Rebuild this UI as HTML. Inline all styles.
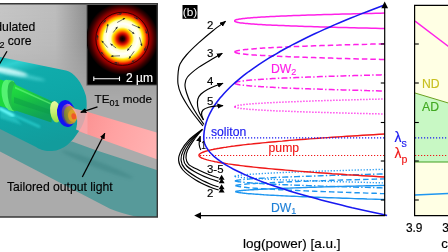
<!DOCTYPE html>
<html><head><meta charset="utf-8"><title>figure</title>
<style>
html,body{margin:0;padding:0;background:#fff;}
body{width:448px;height:252px;overflow:hidden;}
svg{display:block;}
text{font-family:"Liberation Sans",Arial,sans-serif;}
</style></head><body>
<svg width="448" height="252" viewBox="0 0 448 252">
<defs>
<linearGradient id="bgA" x1="0" y1="0" x2="1" y2="0">
<stop offset="0" stop-color="#c6c6c6"/><stop offset="0.35" stop-color="#bdbdbd"/><stop offset="0.56" stop-color="#8c8c8c"/><stop offset="1" stop-color="#8a8a8a"/>
</linearGradient>
<linearGradient id="bgFade" x1="0" y1="0" x2="0" y2="1">
<stop offset="0" stop-color="#fff" stop-opacity="1"/><stop offset="0.45" stop-color="#fff" stop-opacity="0.8"/><stop offset="1" stop-color="#fff" stop-opacity="0"/>
</linearGradient>
<mask id="mFade"><rect x="0" y="0" width="160" height="100" fill="url(#bgFade)"/></mask>
<radialGradient id="ring" cx="122.4" cy="38.8" r="36" gradientUnits="userSpaceOnUse">
<stop offset="0" stop-color="#000000"/>
<stop offset="0.06" stop-color="#2a0000"/>
<stop offset="0.115" stop-color="#a00000"/>
<stop offset="0.165" stop-color="#e82000"/>
<stop offset="0.215" stop-color="#ff8000"/>
<stop offset="0.27" stop-color="#ffe000"/>
<stop offset="0.325" stop-color="#ffffc8"/>
<stop offset="0.42" stop-color="#ffffff"/>
<stop offset="0.515" stop-color="#ffffc8"/>
<stop offset="0.57" stop-color="#ffe800"/>
<stop offset="0.625" stop-color="#ff9000"/>
<stop offset="0.68" stop-color="#f02000"/>
<stop offset="0.73" stop-color="#b00000"/>
<stop offset="0.80" stop-color="#880000"/>
<stop offset="0.89" stop-color="#400000"/>
<stop offset="1" stop-color="#000000"/>
</radialGradient>
<linearGradient id="teal" x1="0" y1="0" x2="0.25" y2="1">
<stop offset="0" stop-color="#18b4b4"/><stop offset="0.10" stop-color="#30d0d0"/><stop offset="0.22" stop-color="#10acac"/><stop offset="0.6" stop-color="#0ea6a6"/><stop offset="1" stop-color="#129c9c"/>
</linearGradient>
<linearGradient id="green" x1="0" y1="0" x2="0.35" y2="1">
<stop offset="0" stop-color="#22e040"/><stop offset="0.3" stop-color="#1cd040"/><stop offset="0.6" stop-color="#16b848"/><stop offset="1" stop-color="#10a058"/>
</linearGradient>
<marker id="ah" viewBox="0 0 10 10" refX="9" refY="5" markerWidth="6.2" markerHeight="6.2" orient="auto-start-reverse" markerUnits="userSpaceOnUse"><path d="M0,0.8 L10,5 L0,9.2 z" fill="#000"/></marker>
<filter id="blur1" x="-20%" y="-20%" width="140%" height="140%"><feGaussianBlur stdDeviation="0.8"/></filter>
<filter id="blur2" x="-20%" y="-100%" width="140%" height="300%"><feGaussianBlur stdDeviation="1.6"/></filter>
<linearGradient id="ygrad" x1="0" y1="0" x2="0" y2="1"><stop offset="0" stop-color="#e8f8a0"/><stop offset="0.5" stop-color="#c8f070"/><stop offset="1" stop-color="#90e040"/></linearGradient>
<linearGradient id="pgrad" x1="0" y1="0.6" x2="1" y2="0.3"><stop offset="0" stop-color="#403890"/><stop offset="0.45" stop-color="#7848b0"/><stop offset="0.8" stop-color="#d060e0"/><stop offset="1" stop-color="#ff80f0"/></linearGradient>
<clipPath id="clipInset"><rect x="87" y="5" width="70.5" height="80.5"/></clipPath>
<clipPath id="clipA"><rect x="0" y="4" width="157.5" height="213"/></clipPath>
<linearGradient id="pinkg" gradientUnits="userSpaceOnUse" x1="78" y1="120" x2="157" y2="146"><stop offset="0" stop-color="#fb9090"/><stop offset="0.45" stop-color="#ffa2a2"/><stop offset="1" stop-color="#ffb2b2"/></linearGradient>
<linearGradient id="ogr" x1="0" y1="0.5" x2="1" y2="0.4"><stop offset="0" stop-color="#6c7c38"/><stop offset="0.4" stop-color="#a89030"/><stop offset="1" stop-color="#d8a040"/></linearGradient>
<clipPath id="clipC"><rect x="415" y="5" width="33" height="210"/></clipPath>
</defs>

<g clip-path="url(#clipA)">
<rect x="0" y="4" width="158" height="213" fill="#ababab"/>
<rect x="0" y="4" width="158" height="100" fill="url(#bgA)" mask="url(#mFade)"/>
<path d="M0,128 L40,146 L72,141.5 L96,150.3 L157.5,170.3 L157.5,218 L142,218 Q122,213.8 110,208.8 L0,151.4 Z" fill="#579a9a"/>
<ellipse cx="96" cy="165" rx="38" ry="3.2" fill="#3f8585" opacity="0.55" transform="rotate(21 98 168)" filter="url(#blur2)"/>
<path d="M76,108.5 L157.5,132.8 L157.5,159.5 L78,131 Z" fill="url(#pinkg)"/>
<path d="M0,57 L66,70.5 C74,72.5 82,82 86,96 C88,108 86,122 78.7,131.4 C72,142 64,150 52,151 C44,151.5 39,149 36,147 L0,129 Z" fill="url(#teal)"/>
<ellipse cx="9" cy="71.5" rx="19" ry="2.8" fill="#f0ffff" opacity="0.95" transform="rotate(12 9 71.5)" filter="url(#blur2)"/>
<ellipse cx="22" cy="75.5" rx="24" ry="2" fill="#70e8e8" opacity="0.5" transform="rotate(12 22 75.5)" filter="url(#blur2)"/>
<path d="M0,110 L14,116 L22,125 L0,118 Z" fill="#28c4c4" opacity="0.8" filter="url(#blur1)"/>
<path d="M0,109 L40,127" stroke="#30dcdc" stroke-width="2.4" fill="none" filter="url(#blur1)" opacity="0.7"/>
<path d="M0,108.6 L13,115.5" stroke="#70ffff" stroke-width="2.6" fill="none" filter="url(#blur1)" stroke-linecap="round"/>
<path d="M0,79.5 L10,82.6 L10,109 L0,106 Z" fill="#1cd83c"/>
<ellipse cx="8.2" cy="94.8" rx="6.4" ry="15.2" fill="#54f272" transform="rotate(-8 8.2 94.8)"/>
<path d="M8.2,79.7 L14,81 L14,111.4 L8.2,109.9 Z" fill="#4cec6a"/>
<ellipse cx="13.6" cy="96.2" rx="5.8" ry="15.2" fill="#24bc4a" transform="rotate(-8 13.6 96.2)"/>
<path d="M14.5,84.2 L53.6,102 L51.4,122.5 L12.6,109.4 C10.5,104 11,90 14.5,84.2 Z" fill="url(#green)"/>
<path d="M14,97 L52,110.5 L52,115 L14,103 Z" fill="#0c9a48" opacity="0.45"/>
<path d="M15,86.5 L53,104 L53,105.6 L15,88.6 Z" fill="#70ff80" opacity="0.55"/>
<ellipse cx="55.6" cy="111.8" rx="5.4" ry="10.8" fill="url(#ygrad)" transform="rotate(-9 55.6 111.8)"/>
<ellipse cx="66.3" cy="113.6" rx="9.2" ry="13.6" fill="#1212f2" transform="rotate(-9 66.3 113.6)"/>
<ellipse cx="68.3" cy="114.2" rx="6.6" ry="10.4" fill="url(#pgrad)" transform="rotate(-9 68.3 114.2)"/>
<ellipse cx="70.4" cy="115" rx="6.6" ry="9.2" fill="url(#ogr)" transform="rotate(-9 70.4 115)"/>
<ellipse cx="72.6" cy="115.8" rx="4.5" ry="6" fill="#dca024" transform="rotate(-9 72.6 115.8)"/>
<ellipse cx="73.8" cy="116.3" rx="2.4" ry="3.1" fill="#f05828" transform="rotate(-9 73.8 116.3)"/>
<path d="M72,108 L87.5,111.8 L87.5,134.5 L76,129.5 C78,122 78,115 72,108 Z" fill="#f8a8ac" opacity="0.85"/>
<rect x="86.6" y="5" width="71.4" height="80.4" fill="#000"/>
<path d="M86.9,5 V85.2 H157" stroke="#999" stroke-width="0.7" fill="none"/>
<g clip-path="url(#clipInset)"><circle cx="122.4" cy="38.8" r="36" fill="url(#ring)"/></g>
<circle cx="122.4" cy="38.8" r="26.6" fill="none" stroke="#2a0000" stroke-width="0.9"/>
<path d="M131.6,45.1 L127.5,50.5" stroke="#2a2a2a" stroke-width="0.65" fill="none"/>
<path d="M127.1,51.0 L127.9,48.3 L129.5,49.5 Z" fill="#2a2a2a"/>
<path d="M116.1,48.0 L110.7,43.9" stroke="#2a2a2a" stroke-width="0.65" fill="none"/>
<path d="M110.2,43.5 L112.9,44.3 L111.7,45.9 Z" fill="#2a2a2a"/>
<path d="M113.2,32.5 L117.3,27.1" stroke="#2a2a2a" stroke-width="0.65" fill="none"/>
<path d="M117.7,26.6 L116.9,29.3 L115.3,28.1 Z" fill="#2a2a2a"/>
<path d="M128.7,29.6 L134.1,33.7" stroke="#2a2a2a" stroke-width="0.65" fill="none"/>
<path d="M134.6,34.1 L131.9,33.3 L133.1,31.7 Z" fill="#2a2a2a"/>
<path d="M139.5,37.3 L141.9,45.8" stroke="#2a2a2a" stroke-width="0.65" fill="none"/>
<path d="M142.0,46.4 L140.3,44.1 L142.3,43.6 Z" fill="#2a2a2a"/>
<path d="M134.2,51.3 L129.1,58.4" stroke="#2a2a2a" stroke-width="0.65" fill="none"/>
<path d="M128.7,58.9 L129.4,56.1 L131.1,57.3 Z" fill="#2a2a2a"/>
<path d="M120.0,55.8 L111.2,56.2" stroke="#2a2a2a" stroke-width="0.65" fill="none"/>
<path d="M110.6,56.3 L113.2,55.1 L113.3,57.2 Z" fill="#2a2a2a"/>
<path d="M107.6,47.5 L101.8,40.9" stroke="#2a2a2a" stroke-width="0.65" fill="none"/>
<path d="M101.4,40.5 L103.9,41.8 L102.4,43.1 Z" fill="#2a2a2a"/>
<path d="M106.3,32.7 L107.9,24.0" stroke="#2a2a2a" stroke-width="0.65" fill="none"/>
<path d="M108.0,23.4 L108.5,26.2 L106.5,25.9 Z" fill="#2a2a2a"/>
<path d="M117.2,22.5 L124.9,18.3" stroke="#2a2a2a" stroke-width="0.65" fill="none"/>
<path d="M125.4,18.0 L123.6,20.1 L122.6,18.3 Z" fill="#2a2a2a"/>
<path d="M131.9,24.5 L140.0,27.9" stroke="#2a2a2a" stroke-width="0.65" fill="none"/>
<path d="M140.6,28.2 L137.7,28.1 L138.5,26.2 Z" fill="#2a2a2a"/>
<path d="M145.9,46.4 L144.6,50.6" stroke="#2a2a2a" stroke-width="0.65" fill="none"/>
<path d="M144.4,51.1 L144.2,48.3 L146.2,48.9 Z" fill="#2a2a2a"/>
<path d="M135.5,59.7 L131.8,62.1" stroke="#2a2a2a" stroke-width="0.65" fill="none"/>
<path d="M131.3,62.4 L133.0,60.1 L134.1,61.8 Z" fill="#2a2a2a"/>
<path d="M119.0,63.2 L114.7,62.7" stroke="#2a2a2a" stroke-width="0.65" fill="none"/>
<path d="M114.1,62.6 L116.8,61.9 L116.6,64.0 Z" fill="#2a2a2a"/>
<path d="M104.1,55.4 L101.1,52.1" stroke="#2a2a2a" stroke-width="0.65" fill="none"/>
<path d="M100.7,51.7 L103.3,52.9 L101.8,54.3 Z" fill="#2a2a2a"/>
<path d="M97.7,39.7 L97.5,35.3" stroke="#2a2a2a" stroke-width="0.65" fill="none"/>
<path d="M97.5,34.7 L98.6,37.3 L96.6,37.4 Z" fill="#2a2a2a"/>
<path d="M102.9,23.7 L105.6,20.2" stroke="#2a2a2a" stroke-width="0.65" fill="none"/>
<path d="M105.9,19.7 L105.1,22.4 L103.5,21.2 Z" fill="#2a2a2a"/>
<path d="M117.2,14.7 L121.5,13.7" stroke="#2a2a2a" stroke-width="0.65" fill="none"/>
<path d="M122.1,13.6 L119.7,15.1 L119.3,13.2 Z" fill="#2a2a2a"/>
<path d="M133.9,17.0 L137.8,19.0" stroke="#2a2a2a" stroke-width="0.65" fill="none"/>
<path d="M138.4,19.3 L135.6,19.0 L136.5,17.1 Z" fill="#2a2a2a"/>
<path d="M145.3,29.5 L147.0,33.5" stroke="#2a2a2a" stroke-width="0.65" fill="none"/>
<path d="M147.2,34.1 L145.2,32.1 L147.1,31.3 Z" fill="#2a2a2a"/>
<path d="M93.5,78.8 H119.8 M93.8,76.6 V81 M119.5,76.6 V81" stroke="#fff" stroke-width="1.1" fill="none"/>
<text x="126" y="82.3" font-size="12" fill="#fff" stroke="#fff" stroke-width="0.15">2 µm</text>
<text x="35.3" y="30.5" font-size="12.2" fill="#000" stroke="#000" stroke-width="0.15" text-anchor="end">Modulated</text>
<text x="31.5" y="45" font-size="12.2" fill="#000" stroke="#000" stroke-width="0.15" text-anchor="end">SiO<tspan font-size="9" dy="3">2</tspan><tspan dy="-3"> core</tspan></text>
<path d="M7,51.2 L-0.5,64" stroke="#000" stroke-width="1.25" fill="none"/>
<text x="94.6" y="103" font-size="11.7" fill="#000" stroke="#000" stroke-width="0.15">TE<tspan font-size="9" dy="2.6">01</tspan><tspan dy="-2.6"> mode</tspan></text>
<path d="M97.5,106.8 L80.8,112.3" stroke="#000" stroke-width="1.3" fill="none" marker-end="url(#ah)"/>
<path d="M82.3,177 L104.8,133.3" stroke="#000" stroke-width="1.3" fill="none" marker-end="url(#ah)"/>
<text x="7" y="191.3" font-size="12.2" fill="#000" stroke="#000" stroke-width="0.15">Tailored output light</text>
</g>
<path d="M0,3.8 H157.3 V217 H0" stroke="#383838" stroke-width="1.4" fill="none"/>
<rect x="182.5" y="5" width="15" height="13.8" fill="#000"/>
<text x="190" y="16" font-size="11.8" fill="white" text-anchor="middle">(b)</text>
<path d="M234.7,20.9 L234.7,20.8 L234.7,20.7 L234.7,20.7 L234.8,20.6 L234.8,20.5 L234.9,20.4 L235.0,20.3 L235.2,20.2 L235.3,20.1 L235.5,20.0 L235.8,19.9 L236.0,19.8 L236.3,19.7 L236.6,19.6 L237.0,19.6 L237.4,19.5 L237.8,19.4 L238.3,19.3 L238.8,19.2 L239.4,19.1 L240.0,19.0 L240.7,18.9 L241.4,18.8 L242.1,18.7 L242.9,18.6 L243.8,18.5 L244.6,18.4 L245.6,18.3 L246.6,18.2 L247.6,18.1 L248.7,18.0 L249.9,17.9 L251.1,17.8 L252.4,17.7 L253.7,17.6 L255.1,17.5 L256.6,17.4 L258.1,17.3 L259.6,17.2 L261.3,17.1 L263.0,17.0 L264.7,16.9 L266.5,16.8 L268.4,16.7 L270.4,16.6 L272.4,16.5 L274.5,16.4 L276.6,16.3 L278.8,16.2 L281.1,16.1 L283.5,16.0 L285.9,15.9 L288.4,15.8 L291.0,15.7 L293.6,15.6 L296.3,15.5 L299.1,15.4 L302.0,15.3 L304.9,15.2 L307.9,15.1 L311.0,15.0 L314.2,14.9 L317.4,14.8 L320.7,14.7 L324.1,14.6 L327.6,14.5 L331.2,14.4 L334.8,14.3 L338.5,14.2 L342.3,14.1 L346.2,14.0 L350.2,13.9 L354.2,13.8 L358.4,13.7 L362.6,13.6 L366.9,13.5 L371.3,13.4 L375.8,13.3 L380.3,13.2 L385.0,13.1 M234.7,20.9 L234.7,21.0 L234.7,21.1 L234.7,21.1 L234.8,21.2 L234.8,21.3 L234.9,21.4 L235.0,21.5 L235.2,21.6 L235.3,21.7 L235.5,21.8 L235.8,21.8 L236.0,21.9 L236.3,22.0 L236.6,22.1 L237.0,22.2 L237.4,22.3 L237.8,22.4 L238.3,22.5 L238.8,22.6 L239.4,22.7 L240.0,22.8 L240.7,22.9 L241.4,23.0 L242.1,23.0 L242.9,23.1 L243.8,23.2 L244.6,23.3 L245.6,23.4 L246.6,23.5 L247.6,23.6 L248.7,23.7 L249.9,23.8 L251.1,23.9 L252.4,24.0 L253.7,24.1 L255.1,24.2 L256.6,24.3 L258.1,24.4 L259.6,24.5 L261.3,24.6 L263.0,24.7 L264.7,24.8 L266.5,24.9 L268.4,25.0 L270.4,25.1 L272.4,25.2 L274.5,25.2 L276.6,25.3 L278.8,25.4 L281.1,25.5 L283.5,25.6 L285.9,25.7 L288.4,25.8 L291.0,25.9 L293.6,26.0 L296.3,26.1 L299.1,26.2 L302.0,26.3 L304.9,26.4 L307.9,26.5 L311.0,26.6 L314.2,26.7 L317.4,26.8 L320.7,26.9 L324.1,27.0 L327.6,27.1 L331.2,27.2 L334.8,27.3 L338.5,27.4 L342.3,27.5 L346.2,27.6 L350.2,27.7 L354.2,27.8 L358.4,27.9 L362.6,28.0 L366.9,28.1 L371.3,28.2 L375.8,28.3 L380.3,28.4 L385.0,28.5" stroke="#ff20e8" stroke-width="1.5" fill="none"/>
<path d="M235.0,52.0 L235.0,51.9 L235.0,51.9 L235.0,51.8 L235.1,51.7 L235.1,51.6 L235.2,51.6 L235.3,51.5 L235.5,51.4 L235.6,51.3 L235.8,51.2 L236.1,51.1 L236.3,51.0 L236.6,50.9 L236.9,50.8 L237.3,50.8 L237.7,50.7 L238.1,50.6 L238.6,50.5 L239.1,50.4 L239.7,50.3 L240.3,50.2 L240.9,50.1 L241.6,50.0 L242.4,49.9 L243.2,49.8 L244.0,49.7 L244.9,49.6 L245.9,49.5 L246.9,49.4 L247.9,49.3 L249.0,49.2 L250.2,49.1 L251.4,49.0 L252.7,48.9 L254.0,48.8 L255.4,48.7 L256.8,48.6 L258.3,48.5 L259.9,48.3 L261.5,48.2 L263.2,48.1 L265.0,48.0 L266.8,47.9 L268.7,47.8 L270.6,47.7 L272.6,47.6 L274.7,47.5 L276.8,47.4 L279.0,47.3 L281.3,47.2 L283.7,47.1 L286.1,46.9 L288.6,46.8 L291.2,46.7 L293.8,46.6 L296.5,46.5 L299.3,46.4 L302.1,46.3 L305.1,46.2 L308.1,46.1 L311.2,46.0 L314.3,45.8 L317.6,45.7 L320.9,45.6 L324.3,45.5 L327.7,45.4 L331.3,45.3 L334.9,45.2 L338.6,45.1 L342.4,44.9 L346.3,44.8 L350.3,44.7 L354.3,44.6 L358.4,44.5 L362.6,44.4 L366.9,44.3 L371.3,44.1 L375.8,44.0 L380.4,43.9 L385.0,43.8 M235.0,52.0 L235.0,52.1 L235.0,52.1 L235.0,52.2 L235.1,52.3 L235.1,52.3 L235.2,52.4 L235.3,52.5 L235.5,52.6 L235.6,52.6 L235.8,52.7 L236.1,52.8 L236.3,52.9 L236.6,53.0 L236.9,53.1 L237.3,53.1 L237.7,53.2 L238.1,53.3 L238.6,53.4 L239.1,53.5 L239.7,53.6 L240.3,53.7 L240.9,53.8 L241.6,53.8 L242.4,53.9 L243.2,54.0 L244.0,54.1 L244.9,54.2 L245.9,54.3 L246.9,54.4 L247.9,54.5 L249.0,54.6 L250.2,54.7 L251.4,54.8 L252.7,54.9 L254.0,55.0 L255.4,55.1 L256.8,55.2 L258.3,55.2 L259.9,55.3 L261.5,55.4 L263.2,55.5 L265.0,55.6 L266.8,55.7 L268.7,55.8 L270.6,55.9 L272.6,56.0 L274.7,56.1 L276.8,56.2 L279.0,56.3 L281.3,56.4 L283.7,56.5 L286.1,56.6 L288.6,56.7 L291.2,56.8 L293.8,56.9 L296.5,57.0 L299.3,57.1 L302.1,57.2 L305.1,57.3 L308.1,57.4 L311.2,57.5 L314.3,57.6 L317.6,57.7 L320.9,57.8 L324.3,57.9 L327.7,58.0 L331.3,58.1 L334.9,58.2 L338.6,58.4 L342.4,58.5 L346.3,58.6 L350.3,58.7 L354.3,58.8 L358.4,58.9 L362.6,59.0 L366.9,59.1 L371.3,59.2 L375.8,59.3 L380.4,59.4 L385.0,59.5" stroke="#ff20e8" stroke-width="1.5" fill="none" stroke-dasharray="5.5,3"/>
<path d="M235.0,83.1 L235.0,83.0 L235.0,83.0 L235.0,82.9 L235.1,82.8 L235.1,82.7 L235.2,82.6 L235.3,82.6 L235.5,82.5 L235.6,82.4 L235.8,82.3 L236.1,82.2 L236.3,82.1 L236.6,82.0 L236.9,81.9 L237.3,81.8 L237.7,81.7 L238.1,81.6 L238.6,81.6 L239.1,81.5 L239.7,81.4 L240.3,81.3 L240.9,81.2 L241.6,81.1 L242.4,81.0 L243.2,80.9 L244.0,80.8 L244.9,80.7 L245.9,80.6 L246.9,80.4 L247.9,80.3 L249.0,80.2 L250.2,80.1 L251.4,80.0 L252.7,79.9 L254.0,79.8 L255.4,79.7 L256.8,79.6 L258.3,79.5 L259.9,79.4 L261.5,79.3 L263.2,79.2 L265.0,79.1 L266.8,79.0 L268.7,78.9 L270.6,78.8 L272.6,78.6 L274.7,78.5 L276.8,78.4 L279.0,78.3 L281.3,78.2 L283.7,78.1 L286.1,78.0 L288.6,77.9 L291.2,77.8 L293.8,77.7 L296.5,77.5 L299.3,77.4 L302.1,77.3 L305.1,77.2 L308.1,77.1 L311.2,77.0 L314.3,76.9 L317.6,76.8 L320.9,76.6 L324.3,76.5 L327.7,76.4 L331.3,76.3 L334.9,76.2 L338.6,76.1 L342.4,76.0 L346.3,75.8 L350.3,75.7 L354.3,75.6 L358.4,75.5 L362.6,75.4 L366.9,75.3 L371.3,75.1 L375.8,75.0 L380.4,74.9 L385.0,74.8 M235.0,83.1 L235.0,83.2 L235.0,83.2 L235.0,83.3 L235.1,83.4 L235.1,83.4 L235.2,83.5 L235.3,83.6 L235.5,83.7 L235.6,83.8 L235.8,83.9 L236.1,83.9 L236.3,84.0 L236.6,84.1 L236.9,84.2 L237.3,84.3 L237.7,84.4 L238.1,84.5 L238.6,84.6 L239.1,84.7 L239.7,84.8 L240.3,84.9 L240.9,84.9 L241.6,85.0 L242.4,85.1 L243.2,85.2 L244.0,85.3 L244.9,85.4 L245.9,85.5 L246.9,85.6 L247.9,85.7 L249.0,85.8 L250.2,85.9 L251.4,86.0 L252.7,86.1 L254.0,86.2 L255.4,86.3 L256.8,86.4 L258.3,86.5 L259.9,86.6 L261.5,86.7 L263.2,86.8 L265.0,86.9 L266.8,87.0 L268.7,87.1 L270.6,87.2 L272.6,87.3 L274.7,87.4 L276.8,87.5 L279.0,87.7 L281.3,87.8 L283.7,87.9 L286.1,88.0 L288.6,88.1 L291.2,88.2 L293.8,88.3 L296.5,88.4 L299.3,88.5 L302.1,88.6 L305.1,88.7 L308.1,88.8 L311.2,88.9 L314.3,89.0 L317.6,89.1 L320.9,89.2 L324.3,89.4 L327.7,89.5 L331.3,89.6 L334.9,89.7 L338.6,89.8 L342.4,89.9 L346.3,90.0 L350.3,90.1 L354.3,90.2 L358.4,90.3 L362.6,90.4 L366.9,90.6 L371.3,90.7 L375.8,90.8 L380.4,90.9 L385.0,91.0" stroke="#ff20e8" stroke-width="1.5" fill="none" stroke-dasharray="6,2.2,1.4,2.2"/>
<path d="M235.0,106.8 L235.0,106.7 L235.0,106.7 L235.0,106.6 L235.1,106.5 L235.1,106.5 L235.2,106.4 L235.3,106.3 L235.5,106.2 L235.6,106.1 L235.8,106.0 L236.1,106.0 L236.3,105.9 L236.6,105.8 L236.9,105.7 L237.3,105.6 L237.7,105.5 L238.1,105.4 L238.6,105.3 L239.1,105.3 L239.7,105.2 L240.3,105.1 L240.9,105.0 L241.6,104.9 L242.4,104.8 L243.2,104.7 L244.0,104.6 L244.9,104.5 L245.9,104.4 L246.9,104.3 L247.9,104.2 L249.0,104.1 L250.2,104.0 L251.4,103.9 L252.7,103.8 L254.0,103.7 L255.4,103.6 L256.8,103.5 L258.3,103.4 L259.9,103.3 L261.5,103.2 L263.2,103.1 L265.0,103.0 L266.8,102.9 L268.7,102.8 L270.6,102.7 L272.6,102.6 L274.7,102.5 L276.8,102.4 L279.0,102.3 L281.3,102.2 L283.7,102.1 L286.1,102.0 L288.6,101.9 L291.2,101.8 L293.8,101.7 L296.5,101.6 L299.3,101.5 L302.1,101.4 L305.1,101.3 L308.1,101.2 L311.2,101.1 L314.3,100.9 L317.6,100.8 L320.9,100.7 L324.3,100.6 L327.7,100.5 L331.3,100.4 L334.9,100.3 L338.6,100.2 L342.4,100.1 L346.3,100.0 L350.3,99.9 L354.3,99.8 L358.4,99.7 L362.6,99.5 L366.9,99.4 L371.3,99.3 L375.8,99.2 L380.4,99.1 L385.0,99.0 M235.0,106.8 L235.0,106.9 L235.0,106.9 L235.0,107.0 L235.1,107.0 L235.1,107.1 L235.2,107.2 L235.3,107.3 L235.5,107.3 L235.6,107.4 L235.8,107.5 L236.1,107.6 L236.3,107.7 L236.6,107.7 L236.9,107.8 L237.3,107.9 L237.7,108.0 L238.1,108.1 L238.6,108.1 L239.1,108.2 L239.7,108.3 L240.3,108.4 L240.9,108.5 L241.6,108.6 L242.4,108.7 L243.2,108.7 L244.0,108.8 L244.9,108.9 L245.9,109.0 L246.9,109.1 L247.9,109.2 L249.0,109.3 L250.2,109.4 L251.4,109.5 L252.7,109.5 L254.0,109.6 L255.4,109.7 L256.8,109.8 L258.3,109.9 L259.9,110.0 L261.5,110.1 L263.2,110.2 L265.0,110.3 L266.8,110.4 L268.7,110.5 L270.6,110.6 L272.6,110.7 L274.7,110.8 L276.8,110.9 L279.0,110.9 L281.3,111.0 L283.7,111.1 L286.1,111.2 L288.6,111.3 L291.2,111.4 L293.8,111.5 L296.5,111.6 L299.3,111.7 L302.1,111.8 L305.1,111.9 L308.1,112.0 L311.2,112.1 L314.3,112.2 L317.6,112.3 L320.9,112.4 L324.3,112.5 L327.7,112.6 L331.3,112.7 L334.9,112.8 L338.6,112.9 L342.4,113.0 L346.3,113.1 L350.3,113.2 L354.3,113.3 L358.4,113.4 L362.6,113.5 L366.9,113.6 L371.3,113.7 L375.8,113.8 L380.4,113.9 L385.0,114.0" stroke="#ff20e8" stroke-width="1.5" fill="none" stroke-dasharray="1.2,1.8"/>
<text x="271" y="72.5" font-size="12.2" fill="#ff20e8" stroke="#ff20e8" stroke-width="0.15">DW<tspan font-size="9" dy="2.8">2</tspan></text>
<path d="M235.1,176.3 L235.1,176.3 L235.1,176.3 L235.1,176.2 L235.2,176.2 L235.2,176.1 L235.3,176.1 L235.4,176.1 L235.6,176.0 L235.7,176.0 L235.9,175.9 L236.2,175.8 L236.4,175.8 L236.7,175.7 L237.0,175.7 L237.4,175.6 L237.8,175.5 L238.2,175.5 L238.7,175.4 L239.2,175.3 L239.8,175.3 L240.4,175.2 L241.0,175.1 L241.7,175.0 L242.5,175.0 L243.3,174.9 L244.1,174.8 L245.0,174.7 L246.0,174.6 L247.0,174.6 L248.0,174.5 L249.1,174.4 L250.3,174.3 L251.5,174.2 L252.8,174.1 L254.1,174.1 L255.5,174.0 L256.9,173.9 L258.4,173.8 L260.0,173.7 L261.6,173.6 L263.3,173.5 L265.0,173.4 L266.9,173.3 L268.7,173.2 L270.7,173.1 L272.7,173.0 L274.8,172.9 L276.9,172.8 L279.1,172.7 L281.4,172.6 L283.7,172.5 L286.2,172.4 L288.7,172.3 L291.2,172.2 L293.8,172.1 L296.6,172.0 L299.3,171.9 L302.2,171.8 L305.1,171.7 L308.1,171.6 L311.2,171.5 L314.4,171.4 L317.6,171.3 L320.9,171.1 L324.3,171.0 L327.8,170.9 L331.3,170.8 L335.0,170.7 L338.7,170.6 L342.5,170.5 L346.3,170.4 L350.3,170.2 L354.3,170.1 L358.5,170.0 L362.7,169.9 L367.0,169.8 L371.3,169.7 L375.8,169.5 L380.4,169.4 L385.0,169.3 M235.1,176.3 L235.1,176.3 L235.1,176.3 L235.1,176.4 L235.2,176.4 L235.2,176.4 L235.3,176.5 L235.4,176.5 L235.6,176.6 L235.7,176.6 L235.9,176.7 L236.2,176.7 L236.4,176.8 L236.7,176.8 L237.0,176.9 L237.4,177.0 L237.8,177.0 L238.2,177.1 L238.7,177.1 L239.2,177.2 L239.8,177.3 L240.4,177.3 L241.0,177.4 L241.7,177.5 L242.5,177.6 L243.3,177.6 L244.1,177.7 L245.0,177.8 L246.0,177.9 L247.0,177.9 L248.0,178.0 L249.1,178.1 L250.3,178.2 L251.5,178.3 L252.8,178.3 L254.1,178.4 L255.5,178.5 L256.9,178.6 L258.4,178.7 L260.0,178.8 L261.6,178.8 L263.3,178.9 L265.0,179.0 L266.9,179.1 L268.7,179.2 L270.7,179.3 L272.7,179.4 L274.8,179.5 L276.9,179.6 L279.1,179.7 L281.4,179.8 L283.7,179.9 L286.2,180.0 L288.7,180.0 L291.2,180.1 L293.8,180.2 L296.6,180.3 L299.3,180.4 L302.2,180.5 L305.1,180.6 L308.1,180.7 L311.2,180.8 L314.4,180.9 L317.6,181.1 L320.9,181.2 L324.3,181.3 L327.8,181.4 L331.3,181.5 L335.0,181.6 L338.7,181.7 L342.5,181.8 L346.3,181.9 L350.3,182.0 L354.3,182.1 L358.5,182.2 L362.7,182.3 L367.0,182.5 L371.3,182.6 L375.8,182.7 L380.4,182.8 L385.0,182.9" stroke="#1e96f0" stroke-width="1.4" fill="none" stroke-dasharray="1.2,1.8"/>
<path d="M235.5,180.9 L235.5,180.9 L235.5,180.9 L235.5,180.8 L235.6,180.8 L235.6,180.7 L235.7,180.7 L235.8,180.7 L236.0,180.6 L236.1,180.6 L236.3,180.5 L236.5,180.4 L236.8,180.4 L237.1,180.3 L237.4,180.3 L237.8,180.2 L238.2,180.1 L238.6,180.1 L239.1,180.0 L239.6,179.9 L240.2,179.9 L240.8,179.8 L241.4,179.7 L242.1,179.6 L242.9,179.6 L243.7,179.5 L244.5,179.4 L245.4,179.3 L246.3,179.2 L247.3,179.2 L248.4,179.1 L249.5,179.0 L250.6,178.9 L251.8,178.8 L253.1,178.7 L254.4,178.7 L255.8,178.6 L257.2,178.5 L258.7,178.4 L260.3,178.3 L261.9,178.2 L263.6,178.1 L265.4,178.0 L267.2,177.9 L269.0,177.8 L271.0,177.7 L273.0,177.6 L275.1,177.5 L277.2,177.4 L279.4,177.3 L281.7,177.2 L284.0,177.1 L286.4,177.0 L288.9,176.9 L291.5,176.8 L294.1,176.7 L296.8,176.6 L299.6,176.5 L302.4,176.4 L305.3,176.3 L308.3,176.2 L311.4,176.1 L314.5,176.0 L317.8,175.9 L321.1,175.7 L324.5,175.6 L327.9,175.5 L331.5,175.4 L335.1,175.3 L338.8,175.2 L342.6,175.1 L346.4,175.0 L350.4,174.8 L354.4,174.7 L358.5,174.6 L362.7,174.5 L367.0,174.4 L371.4,174.3 L375.8,174.1 L380.4,174.0 L385.0,173.9 M235.5,180.9 L235.5,180.9 L235.5,180.9 L235.5,181.0 L235.6,181.0 L235.6,181.1 L235.7,181.1 L235.8,181.1 L236.0,181.2 L236.1,181.2 L236.3,181.3 L236.5,181.4 L236.8,181.4 L237.1,181.5 L237.4,181.5 L237.8,181.6 L238.2,181.7 L238.6,181.7 L239.1,181.8 L239.6,181.9 L240.2,181.9 L240.8,182.0 L241.4,182.1 L242.1,182.2 L242.9,182.2 L243.7,182.3 L244.5,182.4 L245.4,182.5 L246.3,182.6 L247.3,182.6 L248.4,182.7 L249.5,182.8 L250.6,182.9 L251.8,183.0 L253.1,183.1 L254.4,183.1 L255.8,183.2 L257.2,183.3 L258.7,183.4 L260.3,183.5 L261.9,183.6 L263.6,183.7 L265.4,183.8 L267.2,183.9 L269.0,184.0 L271.0,184.1 L273.0,184.2 L275.1,184.3 L277.2,184.4 L279.4,184.5 L281.7,184.6 L284.0,184.7 L286.4,184.8 L288.9,184.9 L291.5,185.0 L294.1,185.1 L296.8,185.2 L299.6,185.3 L302.4,185.4 L305.3,185.5 L308.3,185.6 L311.4,185.7 L314.5,185.8 L317.8,185.9 L321.1,186.1 L324.5,186.2 L327.9,186.3 L331.5,186.4 L335.1,186.5 L338.8,186.6 L342.6,186.7 L346.4,186.8 L350.4,187.0 L354.4,187.1 L358.5,187.2 L362.7,187.3 L367.0,187.4 L371.4,187.5 L375.8,187.7 L380.4,187.8 L385.0,187.9" stroke="#1e96f0" stroke-width="1.4" fill="none" stroke-dasharray="6,2.2,1.4,2.2"/>
<path d="M236.0,185.6 L236.0,185.6 L236.0,185.6 L236.0,185.5 L236.1,185.5 L236.1,185.5 L236.2,185.4 L236.3,185.4 L236.5,185.3 L236.6,185.3 L236.8,185.2 L237.0,185.2 L237.3,185.1 L237.6,185.0 L237.9,185.0 L238.3,184.9 L238.7,184.9 L239.1,184.8 L239.6,184.7 L240.1,184.7 L240.7,184.6 L241.3,184.5 L241.9,184.5 L242.6,184.4 L243.3,184.3 L244.1,184.2 L245.0,184.2 L245.9,184.1 L246.8,184.0 L247.8,183.9 L248.8,183.9 L249.9,183.8 L251.1,183.7 L252.3,183.6 L253.5,183.5 L254.9,183.5 L256.2,183.4 L257.7,183.3 L259.2,183.2 L260.7,183.1 L262.3,183.0 L264.0,182.9 L265.8,182.8 L267.6,182.7 L269.4,182.7 L271.4,182.6 L273.4,182.5 L275.4,182.4 L277.5,182.3 L279.7,182.2 L282.0,182.1 L284.3,182.0 L286.8,181.9 L289.2,181.8 L291.8,181.7 L294.4,181.6 L297.1,181.5 L299.8,181.4 L302.7,181.3 L305.6,181.2 L308.6,181.1 L311.6,181.0 L314.8,180.9 L318.0,180.8 L321.3,180.7 L324.7,180.6 L328.1,180.5 L331.6,180.3 L335.3,180.2 L338.9,180.1 L342.7,180.0 L346.6,179.9 L350.5,179.8 L354.5,179.7 L358.6,179.6 L362.8,179.5 L367.1,179.4 L371.4,179.2 L375.9,179.1 L380.4,179.0 L385.0,178.9 M236.0,185.6 L236.0,185.6 L236.0,185.7 L236.0,185.7 L236.1,185.7 L236.1,185.8 L236.2,185.8 L236.3,185.9 L236.5,185.9 L236.6,186.0 L236.8,186.1 L237.0,186.1 L237.3,186.2 L237.6,186.3 L237.9,186.3 L238.3,186.4 L238.7,186.5 L239.1,186.6 L239.6,186.6 L240.1,186.7 L240.7,186.8 L241.3,186.9 L241.9,187.0 L242.6,187.0 L243.3,187.1 L244.1,187.2 L245.0,187.3 L245.9,187.4 L246.8,187.5 L247.8,187.6 L248.8,187.7 L249.9,187.8 L251.1,187.9 L252.3,188.0 L253.5,188.1 L254.9,188.2 L256.2,188.3 L257.7,188.4 L259.2,188.5 L260.7,188.6 L262.3,188.7 L264.0,188.8 L265.8,188.9 L267.6,189.0 L269.4,189.1 L271.4,189.2 L273.4,189.3 L275.4,189.5 L277.5,189.6 L279.7,189.7 L282.0,189.8 L284.3,189.9 L286.8,190.0 L289.2,190.1 L291.8,190.3 L294.4,190.4 L297.1,190.5 L299.8,190.6 L302.7,190.7 L305.6,190.9 L308.6,191.0 L311.6,191.1 L314.8,191.2 L318.0,191.4 L321.3,191.5 L324.7,191.6 L328.1,191.7 L331.6,191.9 L335.3,192.0 L338.9,192.1 L342.7,192.3 L346.6,192.4 L350.5,192.5 L354.5,192.7 L358.6,192.8 L362.8,192.9 L367.1,193.1 L371.4,193.2 L375.9,193.3 L380.4,193.5 L385.0,193.6" stroke="#1e96f0" stroke-width="1.4" fill="none" stroke-dasharray="5.5,3"/>
<path d="M235.8,191.6 L235.8,191.6 L235.8,191.6 L235.8,191.5 L235.9,191.5 L235.9,191.5 L236.0,191.4 L236.1,191.4 L236.3,191.3 L236.4,191.3 L236.6,191.2 L236.8,191.2 L237.1,191.1 L237.4,191.1 L237.7,191.0 L238.1,191.0 L238.5,190.9 L238.9,190.9 L239.4,190.8 L239.9,190.7 L240.5,190.7 L241.1,190.6 L241.7,190.5 L242.4,190.5 L243.2,190.4 L243.9,190.3 L244.8,190.3 L245.7,190.2 L246.6,190.1 L247.6,190.1 L248.6,190.0 L249.7,189.9 L250.9,189.8 L252.1,189.8 L253.4,189.7 L254.7,189.6 L256.1,189.5 L257.5,189.5 L259.0,189.4 L260.6,189.3 L262.2,189.2 L263.9,189.1 L265.6,189.0 L267.4,189.0 L269.3,188.9 L271.2,188.8 L273.2,188.7 L275.3,188.6 L277.4,188.5 L279.6,188.4 L281.9,188.4 L284.2,188.3 L286.6,188.2 L289.1,188.1 L291.7,188.0 L294.3,187.9 L297.0,187.8 L299.7,187.7 L302.6,187.6 L305.5,187.5 L308.5,187.4 L311.5,187.3 L314.7,187.2 L317.9,187.1 L321.2,187.0 L324.6,186.9 L328.0,186.8 L331.6,186.7 L335.2,186.6 L338.9,186.5 L342.7,186.4 L346.5,186.3 L350.5,186.2 L354.5,186.1 L358.6,186.0 L362.8,185.9 L367.0,185.8 L371.4,185.7 L375.8,185.6 L380.4,185.5 L385.0,185.4 M235.8,191.6 L235.8,191.6 L235.8,191.6 L235.8,191.7 L235.9,191.7 L235.9,191.8 L236.0,191.8 L236.1,191.9 L236.3,191.9 L236.4,192.0 L236.6,192.1 L236.8,192.1 L237.1,192.2 L237.4,192.2 L237.7,192.3 L238.1,192.4 L238.5,192.5 L238.9,192.5 L239.4,192.6 L239.9,192.7 L240.5,192.8 L241.1,192.9 L241.7,192.9 L242.4,193.0 L243.2,193.1 L243.9,193.2 L244.8,193.3 L245.7,193.4 L246.6,193.5 L247.6,193.6 L248.6,193.7 L249.7,193.7 L250.9,193.8 L252.1,193.9 L253.4,194.0 L254.7,194.1 L256.1,194.2 L257.5,194.3 L259.0,194.4 L260.6,194.5 L262.2,194.6 L263.9,194.8 L265.6,194.9 L267.4,195.0 L269.3,195.1 L271.2,195.2 L273.2,195.3 L275.3,195.4 L277.4,195.5 L279.6,195.6 L281.9,195.7 L284.2,195.9 L286.6,196.0 L289.1,196.1 L291.7,196.2 L294.3,196.3 L297.0,196.4 L299.7,196.6 L302.6,196.7 L305.5,196.8 L308.5,196.9 L311.5,197.0 L314.7,197.2 L317.9,197.3 L321.2,197.4 L324.6,197.5 L328.0,197.7 L331.6,197.8 L335.2,197.9 L338.9,198.0 L342.7,198.2 L346.5,198.3 L350.5,198.4 L354.5,198.6 L358.6,198.7 L362.8,198.8 L367.0,199.0 L371.4,199.1 L375.8,199.2 L380.4,199.4 L385.0,199.5" stroke="#1e96f0" stroke-width="1.4" fill="none"/>
<text x="271" y="211.5" font-size="12.2" fill="#1e80d8" stroke="#1e80d8" stroke-width="0.15">DW<tspan font-size="9" dy="2.8">1</tspan></text>
<path d="M199.0,155.3 L199.0,155.2 L199.0,155.1 L199.1,154.9 L199.1,154.8 L199.2,154.6 L199.3,154.5 L199.4,154.3 L199.6,154.1 L199.8,153.9 L200.0,153.7 L200.3,153.5 L200.6,153.3 L201.0,153.1 L201.4,152.9 L201.8,152.7 L202.3,152.5 L202.9,152.2 L203.5,152.0 L204.1,151.8 L204.8,151.5 L205.6,151.3 L206.4,151.1 L207.2,150.8 L208.2,150.6 L209.2,150.3 L210.2,150.1 L211.3,149.8 L212.5,149.6 L213.7,149.3 L215.0,149.0 L216.4,148.8 L217.8,148.5 L219.3,148.3 L220.9,148.0 L222.5,147.7 L224.3,147.4 L226.1,147.2 L227.9,146.9 L229.9,146.6 L231.9,146.3 L234.0,146.1 L236.1,145.8 L238.4,145.5 L240.7,145.2 L243.1,144.9 L245.6,144.6 L248.2,144.3 L250.9,144.1 L253.6,143.8 L256.4,143.5 L259.4,143.2 L262.4,142.9 L265.4,142.6 L268.6,142.3 L271.9,142.0 L275.3,141.7 L278.7,141.4 L282.2,141.1 L285.9,140.7 L289.6,140.4 L293.4,140.1 L297.3,139.8 L301.4,139.5 L305.5,139.2 L309.7,138.9 L314.0,138.6 L318.4,138.2 L322.9,137.9 L327.5,137.6 L332.2,137.3 L337.0,137.0 L341.9,136.6 L346.9,136.3 L352.1,136.0 L357.3,135.7 L362.6,135.3 L368.0,135.0 L373.6,134.7 L379.2,134.3 L385.0,134.0 M199.0,155.3 L199.0,155.4 L199.0,155.5 L199.1,155.7 L199.1,155.8 L199.2,156.0 L199.3,156.2 L199.4,156.3 L199.6,156.5 L199.8,156.7 L200.0,156.9 L200.3,157.1 L200.6,157.3 L201.0,157.5 L201.4,157.8 L201.8,158.0 L202.3,158.2 L202.9,158.4 L203.5,158.7 L204.1,158.9 L204.8,159.1 L205.6,159.4 L206.4,159.6 L207.2,159.9 L208.2,160.1 L209.2,160.4 L210.2,160.6 L211.3,160.9 L212.5,161.1 L213.7,161.4 L215.0,161.7 L216.4,161.9 L217.8,162.2 L219.3,162.5 L220.9,162.7 L222.5,163.0 L224.3,163.3 L226.1,163.6 L227.9,163.9 L229.9,164.1 L231.9,164.4 L234.0,164.7 L236.1,165.0 L238.4,165.3 L240.7,165.6 L243.1,165.9 L245.6,166.2 L248.2,166.5 L250.9,166.8 L253.6,167.1 L256.4,167.4 L259.4,167.7 L262.4,168.0 L265.4,168.3 L268.6,168.6 L271.9,168.9 L275.3,169.2 L278.7,169.5 L282.2,169.8 L285.9,170.1 L289.6,170.4 L293.4,170.8 L297.3,171.1 L301.4,171.4 L305.5,171.7 L309.7,172.0 L314.0,172.4 L318.4,172.7 L322.9,173.0 L327.5,173.3 L332.2,173.7 L337.0,174.0 L341.9,174.3 L346.9,174.7 L352.1,175.0 L357.3,175.3 L362.6,175.7 L368.0,176.0 L373.6,176.3 L379.2,176.7 L385.0,177.0" stroke="#f01818" stroke-width="1.45" fill="none"/>
<path d="M200,155.5 H385" stroke="#f01818" stroke-width="1.2" fill="none" stroke-dasharray="1.2,1.8"/>
<text x="268.6" y="152" font-size="12.2" fill="#f01818" stroke="#f01818" stroke-width="0.15">pump</text>
<path d="M384.5,5.0 L378.6,7.2 L372.7,9.4 L366.9,11.7 L361.2,13.9 L355.7,16.1 L350.2,18.3 L344.8,20.5 L339.5,22.7 L334.4,24.9 L329.3,27.2 L324.3,29.4 L319.5,31.6 L314.7,33.8 L310.0,36.0 L305.4,38.2 L301.0,40.5 L296.6,42.7 L292.3,44.9 L288.2,47.1 L284.1,49.3 L280.1,51.5 L276.3,53.8 L272.5,56.0 L268.8,58.2 L265.3,60.4 L261.8,62.6 L258.4,64.8 L255.2,67.1 L252.0,69.3 L248.9,71.5 L246.0,73.7 L243.1,75.9 L240.4,78.2 L237.7,80.4 L235.1,82.6 L232.7,84.8 L230.3,87.0 L228.1,89.2 L225.9,91.5 L223.8,93.7 L221.9,95.9 L220.0,98.1 L218.3,100.3 L216.6,102.5 L215.0,104.8 L213.6,107.0 L212.2,109.2 L211.0,111.4 L209.8,113.6 L208.8,115.8 L207.8,118.0 L207.0,120.3 L206.2,122.5 L205.6,124.7 L205.0,126.9 L204.6,129.1 L204.2,131.3 L204.0,133.6 L203.8,135.8 L203.8,138.0 L203.8,139.3 L204.0,140.6 L204.2,141.9 L204.6,143.2 L205.0,144.4 L205.6,145.7 L206.2,147.0 L207.0,148.3 L207.9,149.6 L208.8,150.9 L209.9,152.2 L211.1,153.5 L212.4,154.8 L213.7,156.1 L215.2,157.3 L216.8,158.6 L218.5,159.9 L220.2,161.2 L222.1,162.5 L224.1,163.8 L226.2,165.1 L228.4,166.4 L230.7,167.7 L233.1,169.0 L235.6,170.2 L238.2,171.5 L240.9,172.8 L243.7,174.1 L246.6,175.4 L249.6,176.7 L252.7,178.0 L255.9,179.3 L259.2,180.6 L262.6,181.9 L266.1,183.2 L269.7,184.4 L273.5,185.7 L277.3,187.0 L281.2,188.3 L285.2,189.6 L289.3,190.9 L293.6,192.2 L297.9,193.5 L302.3,194.8 L306.9,196.1 L311.5,197.3 L316.2,198.6 L321.1,199.9 L326.0,201.2 L331.1,202.5 L336.2,203.8 L341.4,205.1 L346.8,206.4 L352.2,207.7 L357.8,208.9 L363.4,210.2 L369.2,211.5 L375.0,212.8 L381.0,214.1 L387.1,215.4" stroke="#1818f0" stroke-width="1.55" fill="none"/>
<path d="M206,137.8 H385" stroke="#1818f0" stroke-width="1.2" fill="none" stroke-dasharray="1.2,1.8"/>
<text x="211" y="135.5" font-size="12.2" fill="#1818f0" stroke="#1818f0" stroke-width="0.15">soliton</text>
<path d="M384.7,215.6 V7" stroke="#000" stroke-width="1.2" fill="none"/>
<path d="M384.7,1.6 L381.3,8.2 L388.1,8.2 Z" fill="#000"/>
<path d="M385.3,215.6 H200" stroke="#000" stroke-width="1.2" fill="none"/>
<path d="M194.2,215.6 L201,212.3 L201,218.9 Z" fill="#000"/>
<path d="M380.8,44 H385" stroke="#000" stroke-width="1.1" fill="none"/>
<path d="M380.8,83 H385" stroke="#000" stroke-width="1.1" fill="none"/>
<path d="M380.8,122.5 H385" stroke="#000" stroke-width="1.1" fill="none"/>
<path d="M380.8,161 H385" stroke="#000" stroke-width="1.1" fill="none"/>
<path d="M380.8,200 H385" stroke="#000" stroke-width="1.1" fill="none"/>
<text x="243" y="247.8" font-size="13.5" fill="#000" stroke="#000" stroke-width="0.15">log(power) [a.u.]</text>
<path d="M203,126 C201.7,124.3 197.6,119.4 195,116 C192.4,112.6 189.8,109.2 187.5,105.5 C185.2,101.8 182.6,97.6 181,94 C179.4,90.4 178.5,87.7 178,84 C177.5,80.3 177.9,75.3 178.2,72 C178.5,68.7 178.6,66.8 180,64 C181.4,61.2 183.3,58.5 186.4,55 C189.5,51.5 194.2,46.9 198.6,42.9 C203.0,38.9 208.4,34.3 212.9,30.7 C217.4,27.1 223.5,22.9 225.6,21.3" stroke="#000" stroke-width="1.15" fill="none" marker-end="url(#ah)"/>
<path d="M204,124.5 C202.8,122.8 199.2,117.9 197,114.5 C194.8,111.1 192.7,107.6 191,104 C189.3,100.4 187.6,96.2 186.6,93 C185.6,89.8 184.8,87.2 185,84.5 C185.2,81.8 185.2,79.8 187.5,77 C189.8,74.2 194.2,70.6 198.6,67.4 C203.0,64.2 210.1,60.4 214,58 C217.9,55.6 220.9,54.0 222.3,53.2" stroke="#000" stroke-width="1.15" fill="none" marker-end="url(#ah)"/>
<path d="M203.5,120 C202.8,118.8 200.5,115.3 199.5,113 C198.5,110.7 197.9,108.3 197.6,106 C197.3,103.7 197.3,101.0 197.9,99 C198.5,97.0 199.4,95.6 201,94 C202.6,92.4 205.2,90.8 207.5,89.5 C209.8,88.2 212.4,87.0 215,86 C217.6,85.0 221.7,83.8 223,83.3" stroke="#000" stroke-width="1.15" fill="none" marker-end="url(#ah)"/>
<path d="M203.5,120 C203.2,119.1 201.7,116.2 201.6,114.5 C201.5,112.8 201.8,111.2 203,110 C204.2,108.8 206.4,108.0 208.6,107.3 C210.8,106.6 213.6,106.3 216,106 C218.4,105.7 221.8,105.7 223,105.6" stroke="#000" stroke-width="1.15" fill="none" marker-end="url(#ah)"/>
<path d="M202.6,129.2 C201.1,131.0 196.1,136.8 193.6,140.3 C191.1,143.8 188.8,147.4 187.5,150.3 C186.2,153.2 185.8,155.7 186,158 C186.2,160.3 186.5,162.3 188.6,164.3 C190.7,166.3 195.0,168.2 198.6,170 C202.2,171.8 206.7,173.7 210,175 C213.3,176.3 217.2,177.4 218.6,177.9" stroke="#000" stroke-width="1.15" fill="none"/>
<path d="M202.2,129.5 C200.5,131.3 194.8,136.8 192,140.3 C189.2,143.8 186.9,147.2 185.5,150.3 C184.1,153.4 183.3,156.4 183.5,159 C183.7,161.6 184.4,163.6 186.7,166 C189.0,168.4 193.6,171.2 197.5,173.3 C201.4,175.4 206.5,177.5 210,178.8 C213.5,180.2 217.2,181.0 218.6,181.4" stroke="#000" stroke-width="1.15" fill="none"/>
<path d="M201.9,129.8 C200.0,131.6 193.4,136.9 190.3,140.3 C187.2,143.7 185.0,147.0 183.4,150.3 C181.8,153.6 180.8,157.0 181,160 C181.2,163.0 182.2,165.6 184.8,168.5 C187.4,171.4 192.4,174.7 196.6,177.3 C200.8,179.9 206.3,182.4 210,184 C213.7,185.6 217.2,186.5 218.6,187" stroke="#000" stroke-width="1.15" fill="none"/>
<path d="M201.5,130 C199.3,131.7 191.9,136.9 188.6,140.3 C185.2,143.7 183.1,147.0 181.4,150.3 C179.7,153.6 178.3,157.0 178.6,160.3 C178.8,163.6 180.1,166.7 182.9,170 C185.8,173.3 191.2,177.2 195.7,180 C200.2,182.8 206.2,185.4 210,187.1 C213.8,188.8 217.2,189.5 218.6,190" stroke="#000" stroke-width="1.15" fill="none"/>
<path d="M218.6,179.8 L221.6,174.8 L224.6,179.8 Z" fill="#000"/>
<path d="M218.6,183.3 L221.6,178.3 L224.6,183.3 Z" fill="#000"/>
<path d="M218.6,189.2 L221.6,184.2 L224.6,189.2 Z" fill="#000"/>
<path d="M218.6,192.6 L221.6,187.6 L224.6,192.6 Z" fill="#000"/>
<path d="M200.8,150 C198.7,146 198.6,141.5 200.3,136.2" stroke="#000" stroke-width="1.15" fill="none" marker-end="url(#ah)"/>
<text x="207" y="29.3" font-size="11.4" fill="#000" stroke="#000" stroke-width="0.15">2</text>
<text x="207" y="57.4" font-size="11.4" fill="#000" stroke="#000" stroke-width="0.15">3</text>
<text x="207" y="85.3" font-size="11.4" fill="#000" stroke="#000" stroke-width="0.15">4</text>
<text x="207" y="105" font-size="11.4" fill="#000" stroke="#000" stroke-width="0.15">5</text>
<text x="207" y="173.3" font-size="11.4" fill="#000" stroke="#000" stroke-width="0.15">3-5</text>
<text x="207" y="197" font-size="11.4" fill="#000" stroke="#000" stroke-width="0.15">2</text>
<text x="201.3" y="148.9" font-size="11" fill="#000" stroke="#000" stroke-width="0.15" textLength="4.6" lengthAdjust="spacingAndGlyphs">1</text>
<g clip-path="url(#clipC)">
<rect x="415" y="5" width="40" height="210.5" fill="#ffffe4"/>
<path d="M415,93 L448,103 L455,105 L455,162 L415,162 Z" fill="#c8f8c4"/>
<path d="M415,93 L455,105" stroke="#6aa020" stroke-width="1" fill="none"/>
<path d="M415,162 H455" stroke="#40a020" stroke-width="1" fill="none"/>
<path d="M415,21 L455,51.5" stroke="#ff20e8" stroke-width="1.5" fill="none"/>
<path d="M415,195 L455,193.2" stroke="#1e96f0" stroke-width="1.4" fill="none"/>
<path d="M415,137.8 H455" stroke="#1818f0" stroke-width="1.2" fill="none" stroke-dasharray="1.2,1.8"/>
<path d="M415,155.5 H455" stroke="#f01818" stroke-width="1.2" fill="none" stroke-dasharray="1.2,1.8"/>
</g>
<path d="M448,5.4 H414.6 V215.6 H448" stroke="#000" stroke-width="1.2" fill="none"/>
<path d="M415,44 H418.8" stroke="#000" stroke-width="1.1" fill="none"/>
<path d="M415,83 H418.8" stroke="#000" stroke-width="1.1" fill="none"/>
<path d="M415,122.5 H418.8" stroke="#000" stroke-width="1.1" fill="none"/>
<path d="M415,161 H418.8" stroke="#000" stroke-width="1.1" fill="none"/>
<path d="M415,200 H418.8" stroke="#000" stroke-width="1.1" fill="none"/>
<text x="422" y="88" font-size="12.2" fill="#c8c020" stroke="#c8c020" stroke-width="0.15">ND</text>
<text x="422" y="111" font-size="12.2" fill="#40a820" stroke="#40a820" stroke-width="0.15">AD</text>
<text x="394.6" y="142.2" font-size="13.8" fill="#1818f0" stroke="#1818f0" stroke-width="0.15">λ<tspan font-size="10.6" dy="4.8">s</tspan></text>
<text x="394.6" y="158.2" font-size="13.8" fill="#f01818" stroke="#f01818" stroke-width="0.15">λ<tspan font-size="10.6" dy="4.4">p</tspan></text>
<text x="405.9" y="231.5" font-size="11.9" fill="#000" stroke="#000" stroke-width="0.15">3.9</text>
<text x="442.2" y="231.5" font-size="11.9" fill="#000" stroke="#000" stroke-width="0.15">3.95</text>
<text x="441.3" y="247.5" font-size="13.3" fill="#000" stroke="#000" stroke-width="0.15">core diameter</text>
</svg></body></html>
